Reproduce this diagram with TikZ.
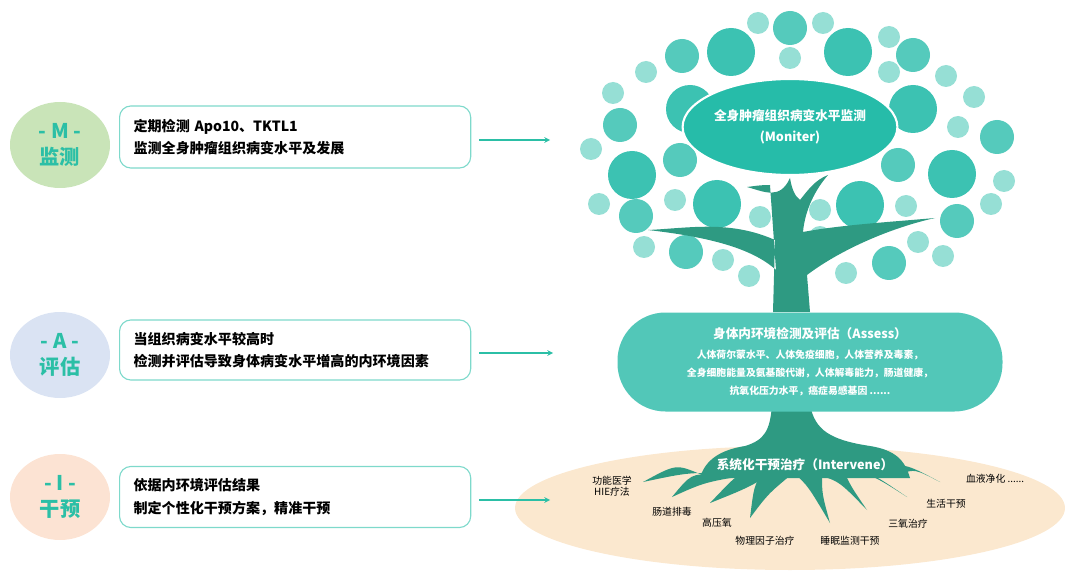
\documentclass[tikz,border=0pt]{standalone}
\usepackage{fontspec}
\setmainfont{Noto Sans CJK SC}
\usetikzlibrary{positioning}
\usetikzlibrary{shapes.geometric}
\definecolor{leafdark}{HTML}{3CC2B2}
\definecolor{leafmid}{HTML}{55CABC}
\definecolor{leaflight}{HTML}{96DFD5}
\definecolor{crown}{HTML}{26BCA9}
\definecolor{wood}{HTML}{2E9A82}
\definecolor{blob}{HTML}{52C7B8}
\definecolor{soil}{HTML}{FBE8CF}
\definecolor{boxline}{HTML}{7ED9CB}
\definecolor{letter}{HTML}{2BBFA6}
\definecolor{mgreen}{HTML}{C9E4B8}
\definecolor{ablue}{HTML}{DAE3F3}
\definecolor{ipeach}{HTML}{FCE3D3}
\newlength{\px}\setlength{\px}{0.025cm}
\tikzset{
  stagedisk/.style={ellipse,minimum width=100\px,minimum height=86\px,inner sep=0pt,text=letter,font=\bfseries\Large,align=center},
  notebox/.style={draw=boxline,thick,rounded corners=8pt,text width=323\px,anchor=west,align=left,font=\bfseries\normalsize,inner xsep=10pt},
  flowarrow/.style={->,thick,draw=letter,>=stealth},
  rootlabel/.style={font=\scriptsize,align=center},
}
\begin{document}
\begin{tikzpicture}[x=0.025cm,y=-0.025cm]
\useasboundingbox (0,0) rectangle (1080,577);
% ground
\fill[soil] (790,508) ellipse (275 and 62);
% crown leaves
\foreach \cx/\cy in {731/52,848/52,690/109,913/109,632/175,952/174,717/204,860/205}
  \fill[leafdark] (\cx,\cy) circle (24);
\foreach \cx/\cy in {682/56,790/28,913/55,620/125,680/160,997/137,898/165,636/216,957/221,686/252,889/263}
  \fill[leafmid] (\cx,\cy) circle (17);
\foreach \cx/\cy in {758/23,823/23,790/58,889/37,889/72,946/76,974/97,613/93,646/72,591/149,958/127,1004/181,599/204,675/200,760/217,820/210,906/206,991/204,644/247,723/260,749/276,820/237,846/273,918/242,943/256}
  \fill[leaflight] (\cx,\cy) circle (11);
% trunk and branches
\fill[wood] (773,312) -- (775,240) .. controls (730,220) and (690,228) .. (648,230)
  .. controls (700,236) and (750,246) .. (776,270) -- (770,185) .. controls (760,185) and (755,186) .. (747,187)
  .. controls (765,192) and (780,200) .. (790,178) .. controls (792,190) and (795,196) .. (800,200)
  .. controls (808,190) and (815,180) .. (828,175) .. controls (815,190) and (805,210) .. (803,232)
  .. controls (840,225) and (890,222) .. (935,218) .. controls (890,228) and (840,250) .. (807,275)
  -- (810,312) -- cycle;
\fill[wood] (772,405) -- (810,405) .. controls (815,430) and (830,440) .. (870,446)
  .. controls (895,450) and (905,460) .. (910,478) -- (700,478)
  .. controls (705,460) and (720,450) .. (745,446) .. controls (765,440) and (770,430) .. cycle;
% roots
\foreach \ax/\bx/\tx/\ty/\cx/\cy in {700/740/643/482/680/468,715/755/672/497/695/478,740/772/710/503/735/485,762/792/750/518/758/490,795/822/830/523/812/490,812/845/867/510/842/484,835/870/907/497/872/476,860/900/940/482/905/465}
  \fill[wood] (\ax,474) .. controls (\cx-4,\cy-4) .. (\tx,\ty) .. controls (\cx+10,\cy+4) .. (\bx,474) -- cycle;
% monitor crown
\node[fill=crown,draw=white,line width=1.5pt,ellipse,inner sep=0pt,minimum width=194\px,minimum height=96\px,text=white,font=\bfseries\small,align=center] (moniter) at (790,127) {全身肿瘤组织病变水平监测\\[4pt](Moniter)};
% assess blob
\node[fill=blob,rounded corners=48\px,minimum width=385\px,minimum height=99\px,text=white,align=center] (assess) at (810,362)
  {{\bfseries\small 身体内环境检测及评估（Assess）}\\[2pt]{\bfseries\scriptsize 人体荷尔蒙水平、人体免疫细胞，人体营养及毒素，}\\[1pt]{\bfseries\scriptsize 全身细胞能量及氨基酸代谢，人体解毒能力，肠道健康，}\\[1pt]{\bfseries\scriptsize 抗氧化压力水平，癌症易感基因 ......}};
\node[text=white,font=\bfseries\small] (intervene) at (805,465) {系统化干预治疗（Intervene）};
% root labels
\node[rootlabel] (hie) at (612,486) {功能医学\\HIE疗法};
\node[rootlabel] (detox) at (672,512) {肠道排毒};
\node[rootlabel] (oxy) at (717,523) {高压氧};
\node[rootlabel] (phys) at (765,541) {物理因子治疗};
\node[rootlabel] (sleep) at (850,541) {睡眠监测干预};
\node[rootlabel] (ozone) at (908,524) {三氧治疗};
\node[rootlabel] (life) at (946,504) {生活干预};
\node[rootlabel] (blood) at (995,479) {血液净化 ......};
% stages
\node[stagedisk,fill=mgreen] (m) at (60,145) {- M -\\监测};
\node[stagedisk,fill=ablue] (a) at (60,355) {- A -\\评估};
\node[stagedisk,fill=ipeach] (i) at (60,497) {- I -\\干预};
\node[notebox,minimum height=62\px] (mbox) at (119,137) {定期检测 Apo10、TKTL1\\[4pt]监测全身肿瘤组织病变水平及发展};
\node[notebox,minimum height=60\px] (abox) at (119,350) {当组织病变水平较高时\\[4pt]检测并评估导致身体病变水平增高的内环境因素};
\node[notebox,minimum height=61\px] (ibox) at (119,497) {依据内环境评估结果\\[4pt]制定个性化干预方案，精准干预};
\coordinate (mend) at (550,140);
\coordinate (aend) at (553,353);
\coordinate (iend) at (550,500);
\draw[flowarrow] ([xshift=8\px]mbox.east|-mend) -- (mend);
\draw[flowarrow] ([xshift=8\px]abox.east|-aend) -- (aend);
\draw[flowarrow] ([xshift=8\px]ibox.east|-iend) -- (iend);
\end{tikzpicture}
\end{document}
